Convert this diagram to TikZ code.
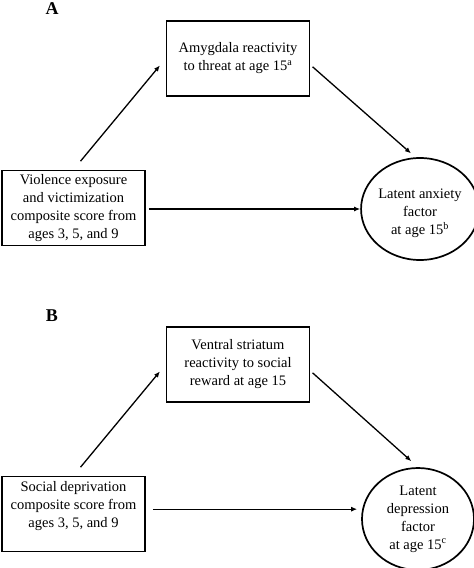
\documentclass[tikz,border=0pt]{standalone}
\usepackage{fontspec}
\setmainfont{Liberation Serif}
\usepackage{tikz}
\usetikzlibrary{shapes.geometric,arrows.meta}
\newcommand{\boxfont}{\fontsize{14.5}{18}\selectfont}
\tikzset{
    varbox/.style={draw,line width=1.7pt,minimum width=143pt,minimum height=75pt,
        inner sep=0pt,align=center,font=\boxfont},
    latent/.style={draw,ellipse,line width=1.7pt,minimum width=112pt,minimum height=102pt,
        inner sep=0pt,align=center,font=\boxfont},
    effect/.style={line width=1.3pt,-{Latex[length=6pt,width=5pt]}},
    tag/.style={anchor=base,font=\bfseries\fontsize{18}{18}\selectfont},
}

\begin{document}
\begin{tikzpicture}[x=1pt,y=-1pt]
        \useasboundingbox (0,0) rectangle (474,568);
        \node[tag] (tagA) at (52,14) {A};
        \node[varbox] (violence) at (73.5,208)
            {Violence exposure\\and victimization\\composite score from\\ages 3, 5, and 9};
        \node[varbox] (amygdala) at (238,58.5)
            {Amygdala reactivity\\to threat at age 15\textsuperscript{a}};
        \node[latent,minimum width=116pt,text height=54pt] (anxiety) at (420,209)
            {Latent anxiety\\factor\\at age 15\textsuperscript{b}};
        \draw[effect,shorten <=11pt,shorten >=9pt] (violence.north) -- (amygdala.west);
        \draw[effect,shorten <=3pt,shorten >=6pt] (amygdala.-5) -- (anxiety.95);
        \draw[effect,shorten <=3pt] (violence.east |- anxiety.west) -- (anxiety.west);
        \node[tag] (tagB) at (52,321) {B};
        \node[varbox,text depth=19pt] (deprivation) at (73.5,514)
            {Social deprivation\\composite score from\\ages 3, 5, and 9};
        \node[varbox] (striatum) at (238,364.5)
            {Ventral striatum\\reactivity to social\\reward at age 15};
        \node[latent] (depression) at (418,519)
            {Latent\\depression\\factor\\at age 15\textsuperscript{c}};
        \draw[effect,shorten <=11pt,shorten >=9pt] (deprivation.north) -- (striatum.west);
        \draw[effect,shorten <=3pt,shorten >=9pt] (striatum.-5) -- (depression.north);
        \draw[effect,shorten <=7pt,shorten >=5pt] (deprivation.east |- depression.170) -- (depression.170);
    \end{tikzpicture}
\end{document}
